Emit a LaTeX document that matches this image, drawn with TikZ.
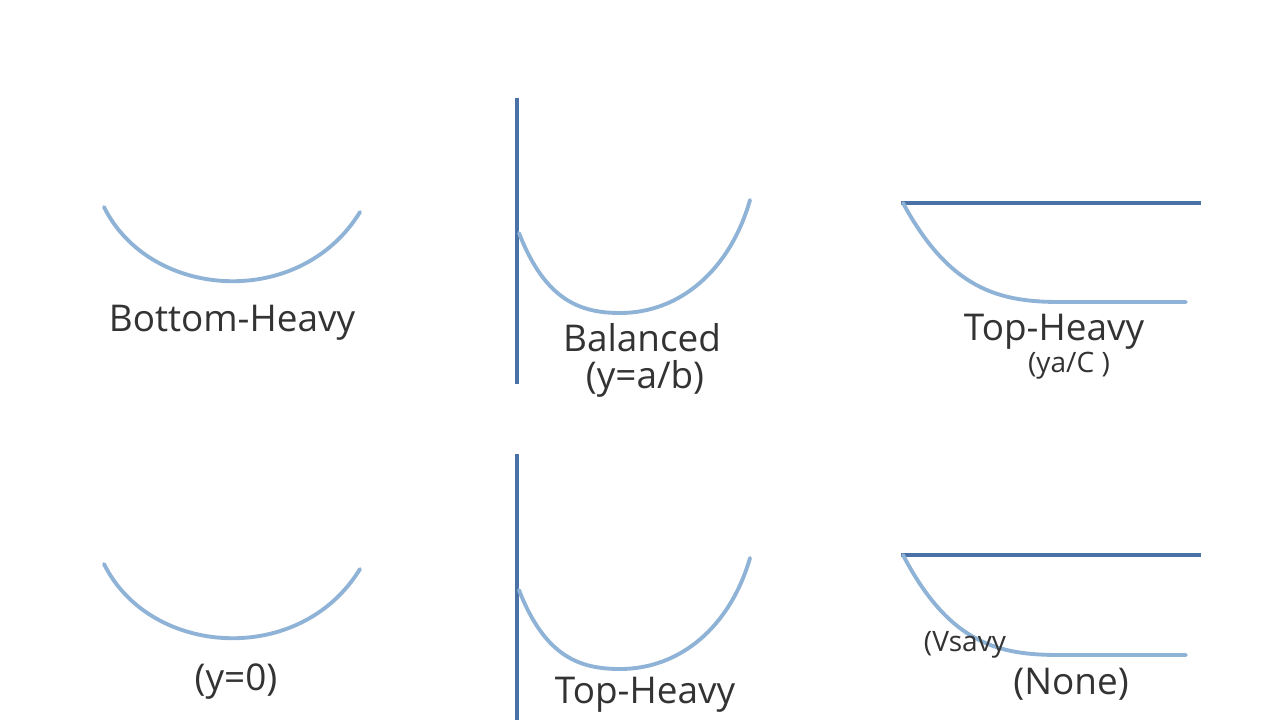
\documentclass[tikz,border=0pt]{standalone}
\usepackage{fontspec}
\setmainfont{Open Sans}
\begin{document}
\begin{tikzpicture}[x=0.02cm,y=-0.02cm,
  axisline/.style={draw=dark,line width=2.4pt},
  curve/.style={draw=light,line width=2.2pt,line cap=round},
  lbl/.style={inner sep=0pt,text=black!80,font=\fontsize{21}{24}\selectfont},
  sml/.style={inner sep=0pt,text=black!80,font=\fontsize{16}{19}\selectfont}]
\definecolor{dark}{HTML}{4A72A6}
\definecolor{light}{HTML}{8FB3D6}
\useasboundingbox[fill=white] (0,0) rectangle (1280,720);
% top row
\draw[curve] (104,207) .. controls (150,300) and (300,310) .. (360,212);
\node[lbl] (t1) at (232,323) {Bottom-Heavy};
\draw[axisline] (517,98) -- (517,384);
\draw[curve] (519,233) .. controls (545,300) and (580,313) .. (620,313) .. controls (680,313) and (730,270) .. (750,200);
\node[lbl] (t2) at (642,338) {Balanced};
\node[lbl] (t3) at (645,379) {(y=a/b)};
\draw[axisline] (901,203) -- (1201,203);
\draw[curve] (903,203) .. controls (950,290) and (1000,302) .. (1060,302) -- (1186,302);
\node[lbl] (t4) at (1054,332) {Top-Heavy};
\node[sml] (t5) at (1069,366) {(ya/C )};
% bottom row
\draw[curve] (104,564) .. controls (150,657) and (300,667) .. (360,569);
\node[lbl] (b1) at (236,682) {(y=0)};
\draw[axisline] (517,454) -- (517,720);
\draw[curve] (519,590) .. controls (545,657) and (580,669) .. (620,669) .. controls (680,669) and (730,627) .. (750,558);
\node[lbl] (b2) at (645,695) {Top-Heavy};
\draw[axisline] (901,555) -- (1201,555);
\draw[curve] (903,555) .. controls (950,645) and (1000,655) .. (1060,655) -- (1186,655);
\node[sml] (b3) at (965,645) {(Vsavy};
\node[lbl] (b4) at (1071,684) {(None)};
\end{tikzpicture}
\end{document}
